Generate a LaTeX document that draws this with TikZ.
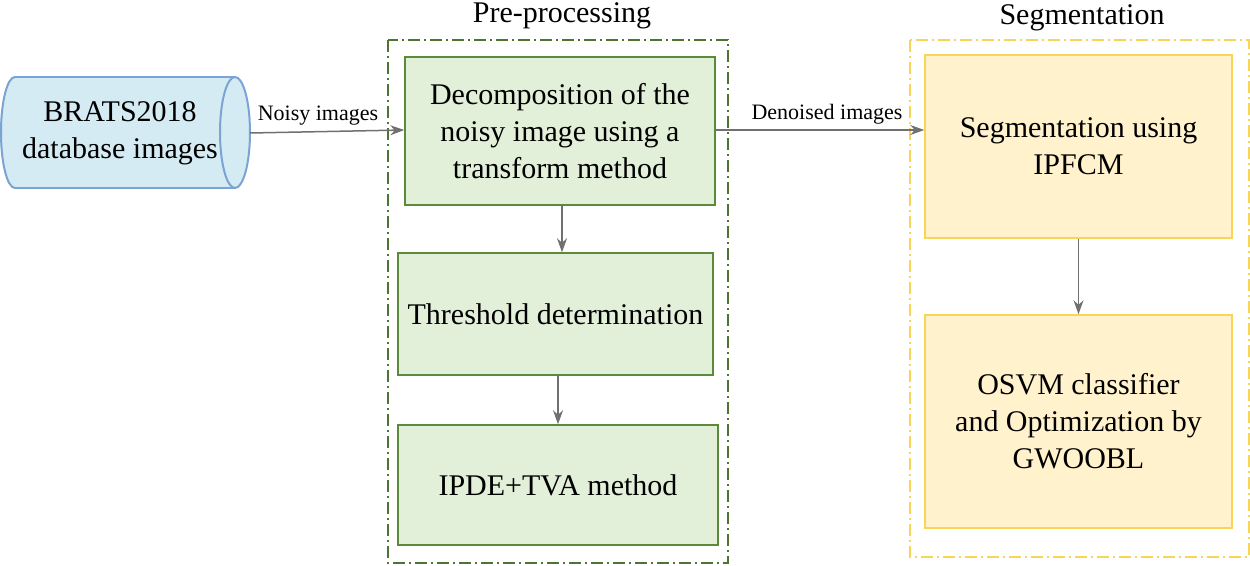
\documentclass[tikz,border=0pt]{standalone}
\usepackage{fontspec}
\setmainfont{Liberation Serif}
\usetikzlibrary{arrows.meta}
\definecolor{gfill}{HTML}{E2EFD9}\definecolor{gline}{HTML}{5B8A3A}
\definecolor{yfill}{HTML}{FFF2CC}\definecolor{yline}{HTML}{F7D558}
\definecolor{bfill}{HTML}{D5EBF3}\definecolor{bline}{HTML}{7BA3D4}
\definecolor{arr}{HTML}{707070}
\begin{document}
\begin{tikzpicture}[x=1pt,y=-1pt,
 gbox/.style={draw=gline,fill=gfill,line width=1.5pt,inner sep=1pt},
 ybox/.style={draw=yline,fill=yfill,line width=1.5pt,inner sep=1pt},
 txt/.style={font=\fontsize{30}{37}\selectfont,align=center},
 lab/.style={font=\fontsize{22}{24}\selectfont},
 con/.style={draw=arr,line width=1.5pt,-{Stealth[length=14pt,width=10pt]}}]
\useasboundingbox (0,0) rectangle (1250,565);
% group frames
\draw[draw=gline!85!black,line width=1.5pt,dash pattern=on 12pt off 4pt on 2pt off 4pt] (388,40) rectangle (728,563);
\node[txt] (tp) at (562,16) {Pre-processing};
\draw[draw=yline,line width=2pt,dash pattern=on 12pt off 4pt on 2pt off 4pt] (910,40) rectangle (1249,557);
\node[txt] (ts) at (1082,18) {Segmentation};
% cylinder
\fill[bfill] (15,77) rectangle (235,188);
\fill[bfill] (15,132.5) ellipse[x radius=15,y radius=55.5];
\fill[bfill] (235,132.5) ellipse[x radius=15,y radius=55.5];
\draw[bline,line width=2pt] (15,77) -- (235,77) (15,188) -- (235,188);
\begin{scope}
\clip (-5,60) rectangle (15,200);
\draw[bline,line width=2pt] (15,132.5) ellipse[x radius=14,y radius=55.5];
\end{scope}
\draw[bline,line width=2pt] (235,132.5) ellipse[x radius=15,y radius=55.5];
\node[txt] (db) at (120,133) {BRATS2018\\database images};
\coordinate (dbr) at (250,133);
% boxes
\node[gbox,txt,minimum width=310pt,minimum height=148pt] (b1) at (560,131) {Decomposition of the\\noisy image using a\\transform method};
\node[gbox,txt,minimum width=315pt,minimum height=122pt] (b2) at (555.5,314) {Threshold determination};
\node[gbox,txt,minimum width=320pt,minimum height=120pt] (b3) at (558,485) {IPDE+TVA method};
\node[ybox,txt,minimum width=307pt,minimum height=183pt] (s1) at (1078.5,146.5) {Segmentation using\\IPFCM};
\node[ybox,txt,minimum width=307pt,minimum height=213pt] (s2) at (1078.5,421.5) {OSVM classifier\\and Optimization by\\GWOOBL};
% connectors
\draw[con] (dbr) -- (b1.west |- 0,130);
\node[lab] (l1) at (318,116) {Noisy images};
\draw[con] (b1.east |- 0,130) -- (s1.west |- 0,130);
\node[lab] (l2) at (827,114) {Denoised images};
\draw[con] (b1.south -| 562,0) -- (b2.north -| 562,0);
\draw[con] (b2.south -| 558,0) -- (b3.north -| 558,0);
\draw[con] (s1.south) -- (s2.north);
\end{tikzpicture}
\end{document}
